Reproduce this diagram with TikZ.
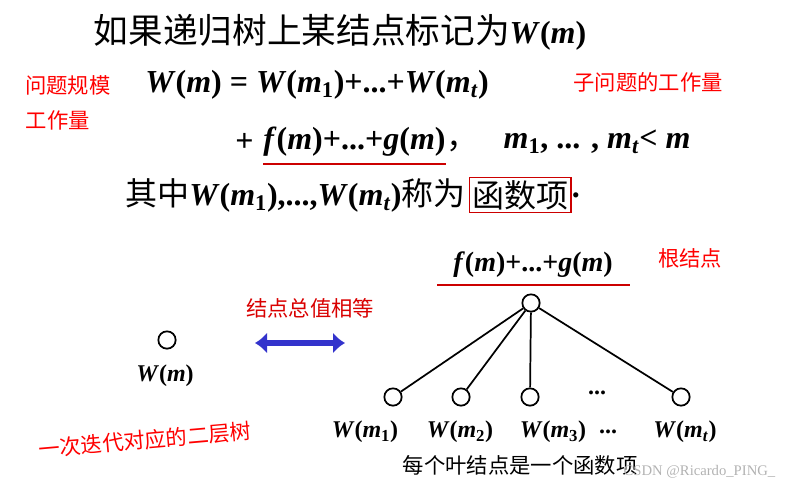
\documentclass[tikz,border=0pt]{standalone}
\usepackage{fontspec}
\usetikzlibrary{arrows.meta}
\setmainfont{Liberation Serif}
\newfontfamily\cjk{Noto Sans CJK SC}
\newcommand{\bi}[1]{\textbf{\textit{#1}}}
\newcommand{\bs}[1]{\textbf{#1}}
\newcommand{\sbt}[1]{\textsubscript{\textbf{#1}}}
\newcommand{\sbi}[1]{\textsubscript{\textbf{\textit{#1}}}}
\begin{document}
\begin{tikzpicture}[x=0.75pt,y=-0.75pt,
  big/.style={font=\fontsize{24}{28}\selectfont,inner sep=0},
  mid/.style={font=\fontsize{18}{21}\selectfont,inner sep=0},
  hand/.style={text=red,font=\cjk\fontsize{16}{18}\selectfont,inner sep=0},
  dot/.style={circle,draw,line width=1.3pt,minimum size=13pt,inner sep=0},
  ul/.style={red!80!black,line width=1.5pt}]
\useasboundingbox (0,0) rectangle (789,492);
\node[big] (t1) at (340,32) {{\cjk\fontsize{26}{28}\selectfont 如果递归树上某结点标记为}\bi{W}\bs{(}\bi{m}\bs{)}};
\node[big,anchor=west] (l2) at (145,85) {\bi{W}\bs{(}\bi{m}\bs{) = }\bi{W}\bs{(}\bi{m}\sbt{1}\bs{)+...+}\bi{W}\bs{(}\bi{m}\sbi{t}\bs{)}};
\node[big,anchor=west] (l3a) at (235,142) {\bs{+}};
\node[big,anchor=west] (l3b) at ([xshift=7pt]l3a.east) {\bi{f}\bs{(}\bi{m}\bs{)+...+}\bi{g}\bs{(}\bi{m}\bs{)}};
\node[big,anchor=west] (l3c) at (l3b.east) {{\cjk ，}\hspace{0.8em}\bi{m}\sbt{1}\bs{, ... , }\bi{m}\sbi{t}\bs{< }\bi{m}};
\draw[ul] ([yshift=-5pt]l3b.south west) -- ([yshift=-5pt]l3b.south east);
\node[big,anchor=west] (l4) at (125,195) {{\cjk 其中}\bi{W}\bs{(}\bi{m}\sbt{1}\bs{),...,}\bi{W}\bs{(}\bi{m}\sbi{t}\bs{)}{\cjk 称为}};
\node[big,anchor=west,draw=red!80!black,line width=1.2pt,inner sep=2pt] (fx) at ([xshift=2pt]l4.east) {\cjk 函数项};
\node[big,anchor=west] (dot4) at (fx.east) {\bs{.}};
\node[big,font=\fontsize{21}{24}\selectfont] (fg) at (533,265) {\bi{f}\bs{(}\bi{m}\bs{)+...+}\bi{g}\bs{(}\bi{m}\bs{)}};
\draw[ul] (437,285) -- (630,285);
\node[text=red!85!black,font=\cjk\fontsize{16}{18}\selectfont] (eq) at (310,308) {结点总值相等};
\draw[line width=5pt,{Latex[length=9pt,width=16pt]}-{Latex[length=9pt,width=16pt]},blue!60!gray] (255,343) -- (345,343);
\node[dot] (s) at (167,340) {};
\node[mid] (sl) at (165,376) {\bi{W}\bs{(}\bi{m}\bs{)}};
\node[dot] (r) at (531,303) {};
\foreach \n/\x in {a/393,b/461,c/530,d/681}{\node[dot] (\n) at (\x,397) {}; \draw[line width=1.3pt] (r) -- (\n);}
\node[mid] (dd) at (597,393) {\bs{...}};
\node[mid] (la) at (365,432) {\bi{W}\bs{(}\bi{m}\sbt{1}\bs{)}};
\node[mid] (lb) at (460,432) {\bi{W}\bs{(}\bi{m}\sbt{2}\bs{)}};
\node[mid] (lc) at (553,432) {\bi{W}\bs{(}\bi{m}\sbt{3}\bs{)}};
\node[mid] (ld) at (608,432) {\bs{...}};
\node[mid] (le) at (685,432) {\bi{W}\bs{(}\bi{m}\sbi{t}\bs{)}};
\node[font=\cjk\fontsize{16}{18}\selectfont] (lf) at (520,465) {每个叶结点是一个函数项};
\node[hand] (h1) at (68,85) {问题规模};
\node[hand] (h2) at (58,120) {工作量};
\node[hand] (h3) at (648,82) {子问题的工作量};
\node[hand] (h4) at (690,258) {根结点};
\node[hand,rotate=5] (h5) at (145,440) {一次迭代对应的二层树};
\node[text=gray!60,font=\fontsize{11}{13}\selectfont,anchor=east] (wm) at (780,472) {CSDN @Ricardo\_PING\_};
\end{tikzpicture}
\end{document}
